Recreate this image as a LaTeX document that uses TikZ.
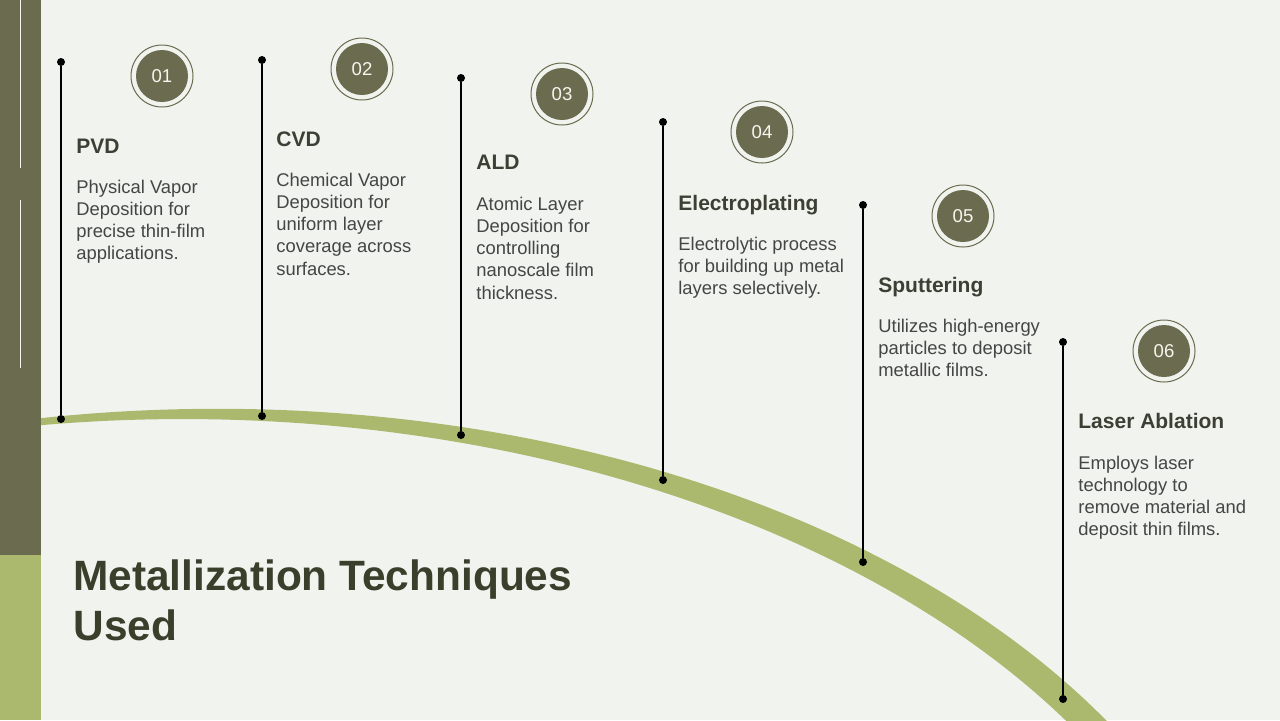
\documentclass[tikz,border=0pt]{standalone}
\usepackage{fontspec}
\setmainfont{Liberation Sans}
\definecolor{bgcol}{HTML}{F1F3EE}
\definecolor{olive}{HTML}{6B6B50}
\definecolor{leaf}{HTML}{ABB96F}
\definecolor{titlecol}{HTML}{3A3F2C}
\definecolor{headcol}{HTML}{3D3F35}
\definecolor{bodycol}{HTML}{454545}
\definecolor{numcol}{HTML}{F6F6EE}
\begin{document}
\begin{tikzpicture}[x=0.5pt,y=-0.5pt,
  declare function={
    uu(\t)=(\t-200)/1050;
    rt(\t)=sqrt(1-uu(\t)*uu(\t));
    yc(\t)=1076-662*rt(\t);
    sl(\t)=0.6305*uu(\t)/rt(\t);
    hh(\t)=(3.5+10.5*(\t-41)/1022)*sqrt(1+sl(\t)*sl(\t));
  },
  dotnode/.style={circle,fill=black,inner sep=0pt,minimum size=4pt},
  stem/.style={black,line width=0.75pt},
  numnode/.style={circle,fill=olive,inner sep=0pt,minimum size=26pt,text=numcol,font=\fontsize{9.3pt}{11pt}\selectfont},
  ring/.style={draw=olive,line width=0.5pt},
  headnode/.style={anchor=base west,inner sep=0pt,text=headcol,font=\fontsize{10.5pt}{12pt}\selectfont\bfseries},
  bodynode/.style={anchor=base west,inner sep=0pt,text=bodycol,font=\fontsize{9.2pt}{11.15pt}\selectfont},
  titlenode/.style={anchor=base west,inner sep=0pt,text=titlecol,font=\fontsize{21.2pt}{25pt}\selectfont\bfseries}
]
\useasboundingbox (0,0) rectangle (1280,720);
\fill[bgcol] (0,0) rectangle (1280,720);
% left bar
\fill[olive] (0,0) rectangle (41,555);
\fill[leaf] (0,555) rectangle (41,720);
\draw[numcol,line width=0.5pt] (20,0) -- (20,168);
\draw[numcol,line width=0.5pt] (20,200) -- (20,368);
% green tapered curve (elliptic arc)
\begin{scope}
\clip (41,0) rectangle (1280,720);
\fill[leaf] plot[domain=35:1135,samples=160,variable=\t] ({\t},{yc(\t)-hh(\t)})
  -- plot[domain=1135:35,samples=160,variable=\t] ({\t},{yc(\t)+hh(\t)}) -- cycle;
\end{scope}
% title
\node[titlenode] (title1) at (73,590) {Metallization Techniques};
\node[titlenode] (title2) at (73,640) {Used};

% column 1
\node[dotnode] (t1) at (61,62) {};
\node[dotnode] (b1) at (61,419) {};
\draw[stem] (t1) -- (b1);
\node[numnode] (c1) at (162,76) {01};
\draw[ring] (c1.center) circle (15.5pt);
\node[headnode] (h1) at (76,153) {PVD};
\node[bodynode] (d1) at (76,193) {\parbox[t]{120pt}{Physical Vapor\\Deposition for\\precise thin-film\\applications.}};

% column 2
\node[dotnode] (t2) at (262,60) {};
\node[dotnode] (b2) at (262,416) {};
\draw[stem] (t2) -- (b2);
\node[numnode] (c2) at (362,69) {02};
\draw[ring] (c2.center) circle (15.5pt);
\node[headnode] (h2) at (276,146) {CVD};
\node[bodynode] (d2) at (276,186) {\parbox[t]{120pt}{Chemical Vapor\\Deposition for\\uniform layer\\coverage across\\surfaces.}};

% column 3
\node[dotnode] (t3) at (461,78) {};
\node[dotnode] (b3) at (461,435) {};
\draw[stem] (t3) -- (b3);
\node[numnode] (c3) at (562,94) {03};
\draw[ring] (c3.center) circle (15.5pt);
\node[headnode] (h3) at (476,169.5) {ALD};
\node[bodynode] (d3) at (476,210) {\parbox[t]{120pt}{Atomic Layer\\Deposition for\\controlling\\nanoscale film\\thickness.}};

% column 4
\node[dotnode] (t4) at (663,122) {};
\node[dotnode] (b4) at (663,480) {};
\draw[stem] (t4) -- (b4);
\node[numnode] (c4) at (762,132) {04};
\draw[ring] (c4.center) circle (15.5pt);
\node[headnode] (h4) at (678,210.5) {Electroplating};
\node[bodynode] (d4) at (678,250) {\parbox[t]{120pt}{Electrolytic process\\for building up metal\\layers selectively.}};

% column 5
\node[dotnode] (t5) at (863,205) {};
\node[dotnode] (b5) at (863,562) {};
\draw[stem] (t5) -- (b5);
\node[numnode] (c5) at (963,216) {05};
\draw[ring] (c5.center) circle (15.5pt);
\node[headnode] (h5) at (878,292.5) {Sputtering};
\node[bodynode] (d5) at (878,332) {\parbox[t]{120pt}{Utilizes high-energy\\particles to deposit\\metallic films.}};

% column 6
\node[dotnode] (t6) at (1063,342) {};
\node[dotnode] (b6) at (1063,699) {};
\draw[stem] (t6) -- (b6);
\node[numnode] (c6) at (1164,351) {06};
\draw[ring] (c6.center) circle (15.5pt);
\node[headnode] (h6) at (1078,428.5) {Laser Ablation};
\node[bodynode] (d6) at (1078,469) {\parbox[t]{120pt}{Employs laser\\technology to\\remove material and\\deposit thin films.}};
\end{tikzpicture}
\end{document}
